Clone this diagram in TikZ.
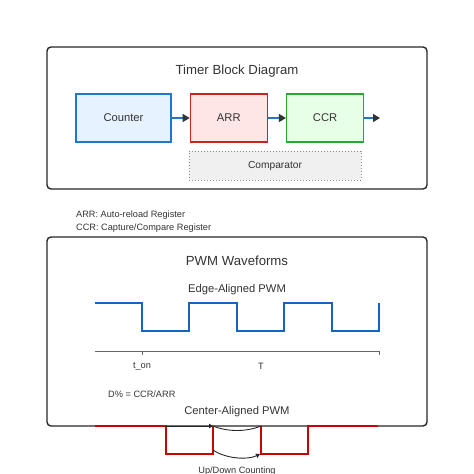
\documentclass[tikz,border=0pt]{standalone}
\usepackage{fontspec}
\setmainfont{Liberation Sans}
\usetikzlibrary{arrows.meta,positioning}

\definecolor{txt}{HTML}{333333}
\definecolor{cntfill}{HTML}{E6F2FF}
\definecolor{cntline}{HTML}{2277CC}
\definecolor{arrfill}{HTML}{FFE6E6}
\definecolor{arrline}{HTML}{CC2222}
\definecolor{ccrfill}{HTML}{E6FFE6}
\definecolor{ccrline}{HTML}{22AA33}
\definecolor{pwmblue}{HTML}{1565C0}
\definecolor{pwmred}{HTML}{CC0000}

\begin{document}
\begin{tikzpicture}[x=1pt,y=-1pt,>={Triangle[length=7pt,width=8pt,color=black!80]},
  text=txt,node distance=18pt,
  panel/.style={draw=black!85,line width=1.4pt,rounded corners=4pt,minimum width=380pt,inner sep=0pt},
  reg node/.style={draw,line width=1.3pt,minimum height=48pt,inner sep=0pt,font=\fontsize{11.2}{13}\selectfont},
  title/.style={font=\fontsize{13.2}{15}\selectfont},
  sub/.style={font=\fontsize{11.2}{13}\selectfont},
  small/.style={font=\fontsize{9.2}{11}\selectfont,inner sep=0pt}]

 \useasboundingbox (0,0) rectangle (474,474);

 % timer block panel
 \node[panel,minimum height=142pt] (timer) at (237,118) {};
 \node[title] (ttitle) at (237,71) {Timer Block Diagram};
 \node[reg node,draw=cntline,fill=cntfill,minimum width=95pt] (counter) at (123.5,118) {Counter};
 \node[reg node,draw=arrline,fill=arrfill,minimum width=77pt] (arr) [right=of counter] {ARR};
 \node[reg node,draw=ccrline,fill=ccrfill,minimum width=77pt] (ccr) [right=of arr] {CCR};
 \coordinate (out) at (380,118);
 \node[draw=black!45,dotted,line width=1pt,fill=black!6,minimum width=172pt,minimum height=29pt,
   inner sep=0pt,font=\fontsize{10.2}{12}\selectfont] (comp) at (275,165.5) {Comparator};

 \path[->,draw=cntline,line width=1.3pt]
    (counter) edge (arr)
    (arr)     edge (ccr)
    (ccr)     edge (out);

 % legend
 \node[small,anchor=west] (legarr) at (76,215) {ARR: Auto-reload Register};
 \node[small,anchor=west] (legccr) at (76,228) {CCR: Capture/Compare Register};

 % pwm panel
 \node[panel,minimum height=189pt] (pwm) at (237,331.5) {};
 \node[title] (ptitle) at (237,261) {PWM Waveforms};
 \node[sub] (edge) at (237,290) {Edge-Aligned PWM};

 \draw[pwmblue,line width=1.8pt]
    (95,303) -- (142,303) -- (142,331) -- (189,331) -- (189,303) -- (237,303) -- (237,331)
    -- (284,331) -- (284,303) -- (332,303) -- (332,331) -- (379,331) -- (379,303);

 \draw[black!60,line width=1pt] (95,351) -- (379,351) -- (379,355)
    (142,351) -- (142,355);
 \node[small] (ton) at (142,366) {t\_on};
 \node[small] (period) at (261,366) {T};
 \node[small,anchor=west] (duty) at (108,394) {D\% = CCR/ARR};

 \node[sub] (center) at (237,412) {Center-Aligned PWM};
 \draw[pwmred,line width=1.6pt]
    (95,426) -- (166,426) -- (166,454) -- (213,454) -- (213,426)
    (261,426) -- (261,454) -- (308,454) -- (308,426) -- (378,426);

 \coordinate (up1) at (166,426);
 \coordinate (up2) at (213,426);
 \coordinate (up3) at (261,426);
 \coordinate (dn1) at (213,450);
 \coordinate (dn2) at (260,454);
 \begin{scope}[black!85,line width=0.9pt,>={Triangle[length=4pt,width=4.5pt]}]
  \draw[->] (up1) -- (up2);
  \draw (up2) .. controls (228,432) and (246,432) .. (up3);
  \draw[->] (dn1) .. controls (226,459) and (248,460) .. (dn2);
 \end{scope}
 \node[small] (updown) at (237,471) {Up/Down Counting};

\end{tikzpicture}
\end{document}
